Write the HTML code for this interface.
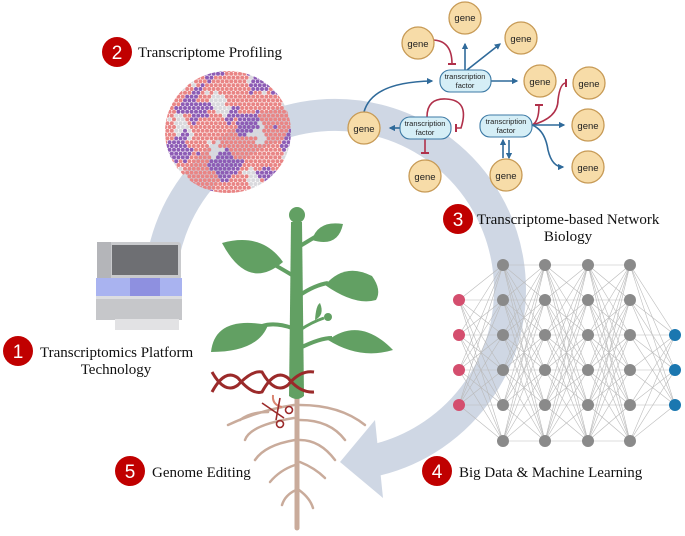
<!DOCTYPE html>
<html><head><meta charset="utf-8"><style>
html,body{margin:0;padding:0;background:#fff;}
svg{display:block}
.lb{font-family:"Liberation Serif",serif;font-size:15px;fill:#111}
.bn{font-family:"Liberation Sans",sans-serif;font-size:19px;fill:#fff;text-anchor:middle}
.g{font-family:"Liberation Sans",sans-serif;font-size:9.5px;fill:#222;text-anchor:middle}
.tf{font-family:"Liberation Sans",sans-serif;font-size:7.5px;fill:#222;text-anchor:middle}
</style></head><body>
<svg id="s" width="685" height="536" viewBox="0 0 685 536" xmlns="http://www.w3.org/2000/svg">
<defs>
<marker id="ab" viewBox="0 0 10 10" refX="8" refY="5" markerWidth="4" markerHeight="4" orient="auto"><path d="M0,0L10,5L0,10z" fill="#2f6a9a"/></marker>
<marker id="tb" viewBox="0 0 10 10" refX="5" refY="5" markerWidth="5" markerHeight="5" orient="auto"><path d="M5,0V10" stroke="#b0304a" stroke-width="2.5"/></marker>
<clipPath id="cc"><ellipse cx="228" cy="132" rx="63" ry="61"/></clipPath>
</defs>
<path d="M160,292 A175,175 0 1 1 376,460" fill="none" stroke="#cfd7e4" stroke-width="32"/>
<polygon points="340,462 375,420 383,498" fill="#cfd7e4"/>
<g id="dots" clip-path="url(#cc)"></g>
<g id="nn"></g>
<g fill="none" stroke-width="1.6">
<path d="M432,40 Q452,40 452,64" stroke="#b0304a" marker-end="url(#tb)"/>
<path d="M465,70 V44" stroke="#2f6a9a" marker-end="url(#ab)"/>
<path d="M467,70 L500,44" stroke="#2f6a9a" marker-end="url(#ab)"/>
<path d="M491,81 H517" stroke="#2f6a9a" marker-end="url(#ab)"/>
<path d="M364,112 Q372,82 432,81" stroke="#2f6a9a" marker-end="url(#ab)"/>
<path d="M400,128 H390" stroke="#2f6a9a" marker-end="url(#ab)"/>
<path d="M427,117 Q427,98 446,99 Q470,100 461,128 H456" stroke="#b0304a" marker-end="url(#tb)"/>
<path d="M425,139 V153" stroke="#b0304a" marker-end="url(#tb)"/>
<path d="M503,158 V140" stroke="#2f6a9a" marker-end="url(#ab)"/>
<path d="M509,140 V158" stroke="#2f6a9a" marker-end="url(#ab)"/>
<path d="M532,125 Q539,122 539,105" stroke="#b0304a" marker-end="url(#tb)"/>
<path d="M532,125 Q558,118 558,100 Q560,83 566,83" stroke="#b0304a" marker-end="url(#tb)"/>
<path d="M532,125 H564" stroke="#2f6a9a" marker-end="url(#ab)"/>
<path d="M532,125 Q545,130 548,150 Q552,167 563,167" stroke="#2f6a9a" marker-end="url(#ab)"/>
</g>
<g fill="#f7dca8" stroke="#c79a55" stroke-width="1.3">
<circle cx="465" cy="18" r="16"/><circle cx="418" cy="43" r="16"/><circle cx="521" cy="38" r="16"/>
<circle cx="540" cy="81" r="16"/><circle cx="589" cy="83" r="16"/><circle cx="588" cy="125" r="16"/>
<circle cx="588" cy="167" r="16"/><circle cx="364" cy="128" r="16"/><circle cx="425" cy="176" r="16"/>
<circle cx="506" cy="175" r="16"/>
</g>
<g class="g">
<text x="465" y="21">gene</text><text x="418" y="47">gene</text><text x="521" y="42">gene</text>
<text x="540" y="85">gene</text><text x="589" y="87">gene</text><text x="588" y="129">gene</text>
<text x="588" y="171">gene</text><text x="364" y="132">gene</text><text x="425" y="180">gene</text>
<text x="506" y="179">gene</text>
</g>
<g fill="#d5eef6" stroke="#3d7aa5" stroke-width="1.1">
<rect x="440" y="70" width="51" height="22" rx="10"/>
<rect x="400" y="117" width="51" height="22" rx="10"/>
<rect x="480" y="115" width="52" height="22" rx="10"/>
</g>
<g class="tf">
<text x="465" y="79">transcription</text><text x="465" y="88">factor</text>
<text x="425" y="126">transcription</text><text x="425" y="135">factor</text>
<text x="506" y="124">transcription</text><text x="506" y="133">factor</text>
</g>
<g>
<rect x="97" y="242" width="84" height="38" rx="3" fill="#c9cacd"/>
<rect x="97" y="242" width="14" height="38" fill="#b4b5b9"/>
<rect x="112" y="245" width="66" height="30" fill="#6e6f73"/>
<rect x="96" y="278" width="86" height="19" fill="#a9b3f0"/>
<rect x="130" y="278" width="30" height="19" fill="#8e90e0"/>
<rect x="96" y="296" width="86" height="24" fill="#c6c7ca"/>
<rect x="115" y="319" width="64" height="11" fill="#e2e2e4"/>
<rect x="96" y="296" width="86" height="3" fill="#dcdde0"/>
</g>
<g fill="none" stroke="#c9ab9b" stroke-linecap="round">
<path d="M297,396 V528" stroke-width="5"/>
<g stroke-width="2.5">
<path d="M294,405 Q260,410 228,425"/><path d="M300,405 Q340,405 365,425"/>
<path d="M294,418 Q250,425 245,440"/><path d="M300,420 Q330,420 345,440"/>
<path d="M295,440 Q265,445 255,460"/><path d="M300,440 Q320,440 335,460"/>
<path d="M295,465 Q280,470 270,482"/><path d="M300,462 Q315,468 325,478"/>
<path d="M296,490 Q285,495 282,505"/><path d="M299,490 Q310,498 313,508"/>
<path d="M268,412 Q250,412 240,420"/>
</g></g>
<g fill="#62a063" stroke="none">
<path d="M291,222 L302,222 L304,396 Q297,402 289,396 Z"/>
<circle cx="297" cy="215" r="8"/>
<path d="M292,275 Q270,262 262,258" stroke="#62a063" stroke-width="4" fill="none"/>
<path d="M222,243 Q262,232 283,262 Q248,292 222,243Z"/>
<path d="M300,246 Q310,240 315,237" stroke="#62a063" stroke-width="4" fill="none"/>
<path d="M312,240 Q318,220 343,224 Q338,248 312,240Z"/>
<path d="M300,295 Q315,285 328,283" stroke="#62a063" stroke-width="4" fill="none"/>
<path d="M325,285 Q345,262 372,276 Q382,290 376,300 Q355,306 325,285Z"/>
<path d="M292,328 Q275,322 262,326" stroke="#62a063" stroke-width="4" fill="none"/>
<path d="M211,352 Q215,315 268,325 Q258,352 211,352Z"/>
<path d="M300,348 Q320,338 332,338" stroke="#62a063" stroke-width="4" fill="none"/>
<path d="M328,340 Q360,316 393,350 Q360,360 328,340Z"/>
<path d="M300,330 Q312,322 324,318" stroke="#62a063" stroke-width="3" fill="none"/>
<path d="M315,320 Q316,305 320,303 Q325,315 315,320Z"/><circle cx="328" cy="317" r="4"/>
</g>
<g fill="none" stroke="#9b2a2a" stroke-width="3">
<path d="M212,372 Q225,395 238,385 Q252,370 262,372 Q275,395 288,385 Q300,370 314,372"/>
<path d="M212,392 Q225,368 238,378 Q252,395 262,392 Q275,368 288,378 Q300,393 314,392"/>
</g>
<path d="M273,395 Q272,405 282,407" stroke="#d98470" stroke-width="2" fill="none"/>
<g stroke="#9b2a2a" stroke-width="1.6" fill="none"><path d="M262,403 L284,418"/><path d="M280,398 L276,420"/><circle cx="289" cy="410" r="3.5"/><circle cx="280" cy="424" r="3.5"/></g>
<g fill="#c00000"><circle cx="18" cy="351" r="15"/><circle cx="117" cy="52" r="15"/><circle cx="458" cy="219" r="15"/><circle cx="437" cy="471" r="15"/><circle cx="130" cy="471" r="15"/></g>
<text class="bn" x="18" y="358">1</text><text class="bn" x="117" y="59">2</text><text class="bn" x="458" y="226">3</text><text class="bn" x="437" y="478">4</text><text class="bn" x="130" y="478">5</text>
<text class="lb" x="40" y="357">Transcriptomics Platform</text>
<text class="lb" x="116" y="374" text-anchor="middle">Technology</text>
<text class="lb" x="138" y="57">Transcriptome Profiling</text>
<text class="lb" x="477" y="224">Transcriptome-based Network</text>
<text class="lb" x="568" y="241" text-anchor="middle">Biology</text>
<text class="lb" x="459" y="477">Big Data &amp; Machine Learning</text>
<text class="lb" x="152" y="477">Genome Editing</text>
</svg>
<script>
var NS="http://www.w3.org/2000/svg";
function el(p,t,a){var e=document.createElementNS(NS,t);for(var k in a)e.setAttribute(k,a[k]);p.appendChild(e);return e;}
var seed=11;function r(){seed=(seed*16807)%2147483647;return seed/2147483647;}
var d=document.getElementById("dots");
for(var y=70;y<196;y+=3.8){var row=Math.round((y-70)/3.8);for(var x=163+(row%2)*2.2;x<294;x+=4.4){
var p=Math.sin(x*0.11+y*0.05)+Math.sin(y*0.13-x*0.04+1.7)+0.6*Math.sin(x*0.23+y*0.21);
var q=Math.sin(x*0.09-y*0.12+0.5)+Math.sin(x*0.17+2.1)*0.7;
var c;
if(p+ (r()-0.5)*0.9 >0.7) c="#8d5cb5"; else if(q+(r()-0.5)*1.0>0.9) c="#d9d9dd"; else c="#e98585";
el(d,"circle",{cx:x.toFixed(1),cy:y.toFixed(1),r:2.0,fill:c});}}
var n=document.getElementById("nn");
var cols=[[459,[300,335,370,405],"#d44e6e"],[503,[265,300,335,370,405,441],"#8a8a8a"],[545,[265,300,335,370,405,441],"#8a8a8a"],[588,[265,300,335,370,405,441],"#8a8a8a"],[630,[265,300,335,370,405,441],"#8a8a8a"],[675,[335,370,405],"#1b77b0"]];
for(var i=0;i<cols.length-1;i++){var a=cols[i],b=cols[i+1];a[1].forEach(function(y1){b[1].forEach(function(y2){el(n,"line",{x1:a[0],y1:y1,x2:b[0],y2:y2,stroke:"#bbb","stroke-width":0.6});});});}
cols.forEach(function(c){c[1].forEach(function(y){el(n,"circle",{cx:c[0],cy:y,r:6,fill:c[2]});});});
</script>
</body></html>
